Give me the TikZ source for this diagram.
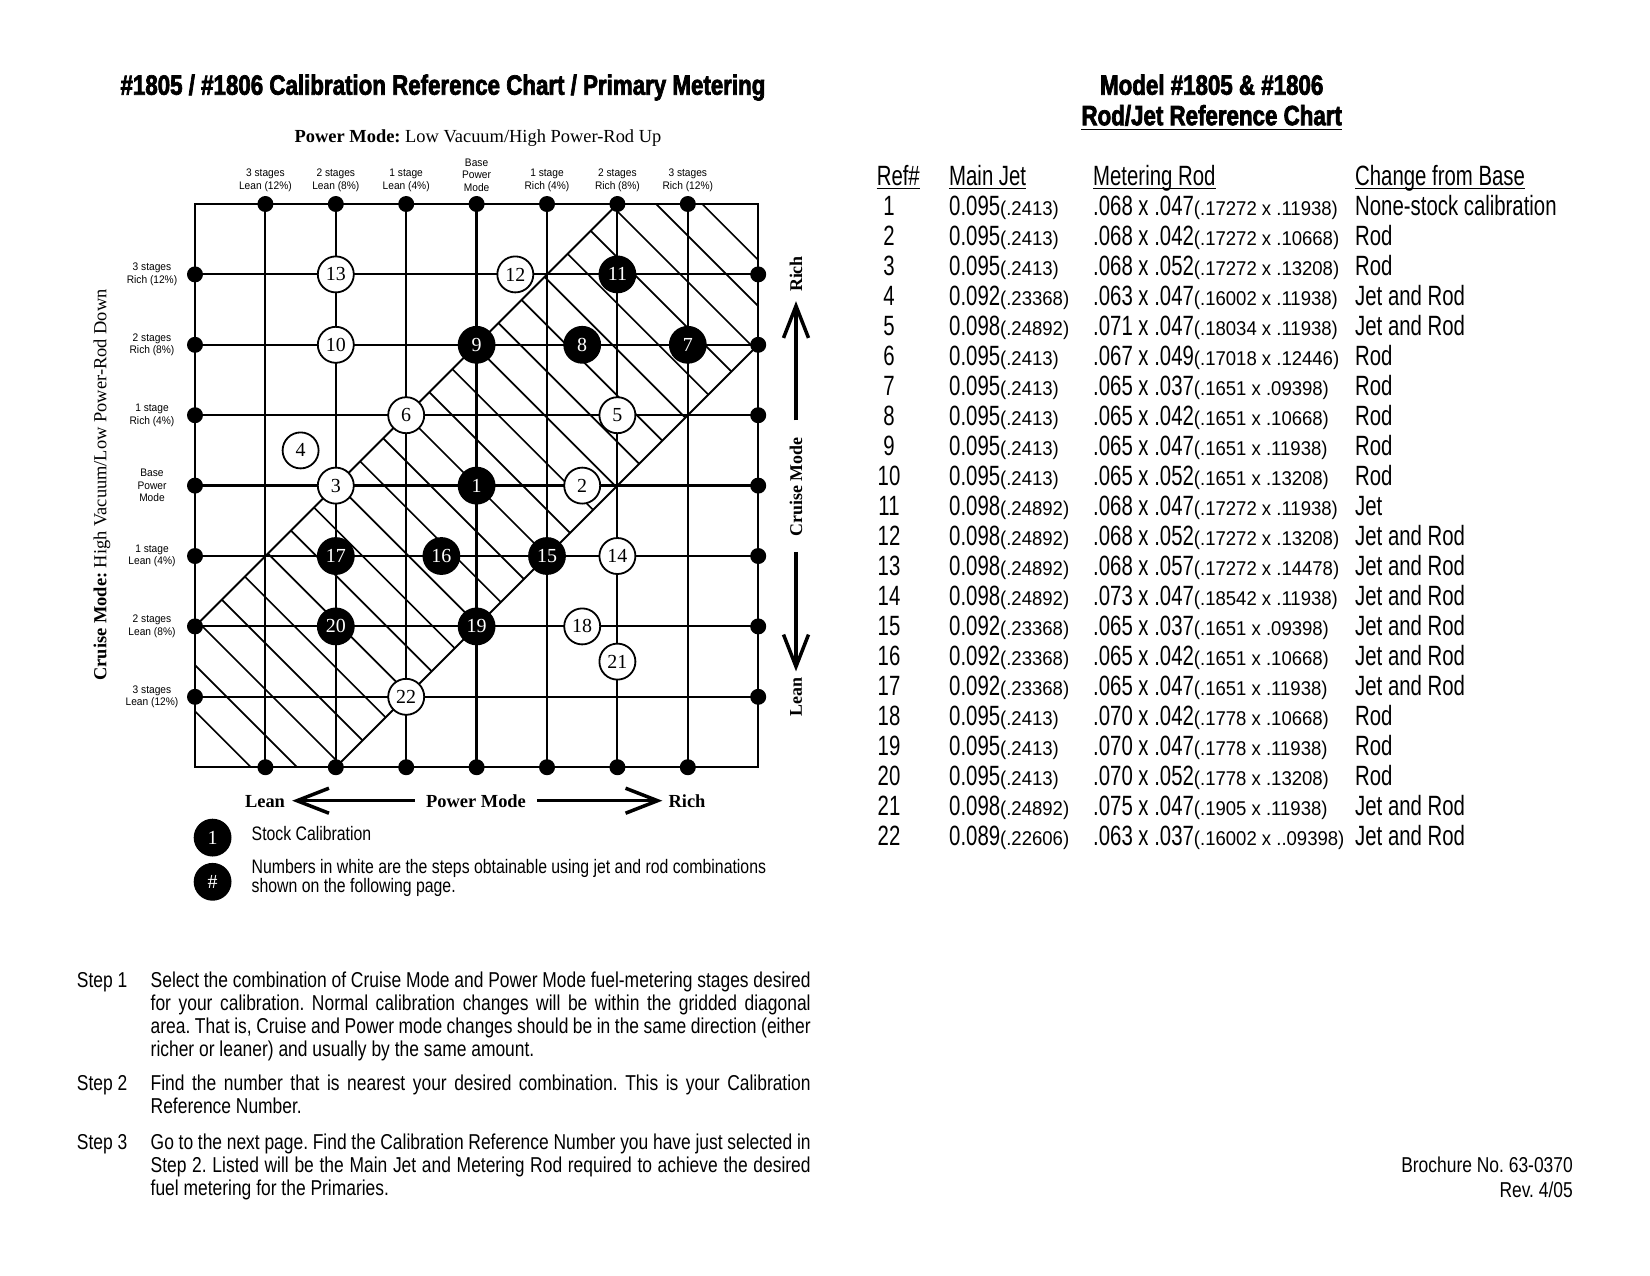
\documentclass[tikz,border=0pt]{standalone}
\usepackage{fontspec}
\usetikzlibrary{arrows.meta,calc}
\newfontfamily\hvc[FakeStretch=0.81]{Liberation Sans}
\newfontfamily\hvt[FakeStretch=0.73]{Liberation Sans}
\newfontfamily\hvs[FakeStretch=0.93]{Liberation Sans}
\newfontfamily\hvb[FakeStretch=0.80,FakeBold=2.5]{Liberation Sans Bold}
\newfontfamily\tms{Liberation Serif}
\newcommand\fsz[1]{\fontsize{#1}{#1}\selectfont}
\newcommand\tsm{\hvs\fsz{20}}
\frenchspacing
\begin{document}
\begin{tikzpicture}[x=1bp,y=-1bp,
  txt/.style={inner sep=0pt},
  tmain/.style={inner sep=0pt,font=\hvt\fsz{28}},
  body/.style={inner sep=0pt,font=\hvc\fsz{21.6},anchor=base west},
  leg/.style={inner sep=0pt,font=\hvc\fsz{19.6},anchor=base west},
  small/.style={inner sep=0pt,font=\hvs\fontsize{11}{12.6}\selectfont,align=center},
  wc/.style={circle,draw,line width=1.8bp,fill=white,minimum size=36bp,inner sep=0pt,font=\tms\fsz{20}},
  bc/.style={wc,fill=black,text=white},
  gridline/.style={line width=2bp},
  baseln/.style={line width=3.3bp},
  border/.style={line width=2.5bp},
  hatchln/.style={line width=1.7bp},
  bandedge/.style={line width=2bp},
  bigarr/.style={line width=3.5bp,-{Straight Barb[length=32bp,width=25bp]}},
  uline/.style={line width=1.5bp}]
\fill[white] (0,0) rectangle (1650,1275);
\useasboundingbox (0,0) rectangle (1650,1275);

% ---------- titles ----------
\node[txt,anchor=base,font=\hvb\fsz{28}] (title) at (443,94.7) {\#1805 / \#1806 Calibration Reference Chart / Primary Metering};
\node[txt,anchor=base,font=\tms\fsz{18.5}] (pmlab) at (478,142) {\textbf{Power Mode:} Low Vacuum/High Power-Rod Up};
\node[txt,rotate=90,font=\tms\fsz{18.5}] (cmlab) at (102,485) {\textbf{Cruise Mode:} High Vacuum/Low Power-Rod Down};

% ---------- grid ----------
\begin{scope}[shift={(195,204)},x=70.4bp,y=-70.4bp]
  \begin{scope}
    \clip (0,6) -- (6,0) -- (8,0) -- (8,2) -- (2,8) -- (0,8) -- cycle;
    \foreach \n in {-11,...,11}{\draw[hatchln] ({\n*0.655-1},-1) -- ({\n*0.655+9},9);}
  \end{scope}
  \foreach \i in {1,2,3,5,6,7}{
    \draw[gridline] (\i,0) -- (\i,8);
    \draw[gridline] (0,\i) -- (8,\i);
  }
  \draw[baseln] (4,0) -- (4,8);
  \draw[baseln] (0,4) -- (8,4);
  \draw[border] (0,0) rectangle (8,8);
  \draw[bandedge] (0,6) -- (6,0);
  \draw[bandedge] (2,8) -- (8,2);
  \foreach \i in {1,...,7}{
    \fill (\i,0) circle (8bp);
    \fill (\i,8) circle (8bp);
    \fill (0,\i) circle (8bp);
    \fill (8,\i) circle (8bp);
  }
  \foreach \cxx/\cyy/\n/\st in {2/1/13/wc, 4.55/1/12/wc, 6/1/11/bc,
      2/2/10/wc, 4/2/9/bc, 5.5/2/8/bc, 7/2/7/bc,
      3/3/6/wc, 6/3/5/wc, 1.5/3.5/4/wc,
      2/4/3/wc, 4/4/1/bc, 5.5/4/2/wc,
      2/5/17/bc, 3.5/5/16/bc, 5/5/15/bc, 6/5/14/wc,
      2/6/20/bc, 4/6/19/bc, 5.5/6/18/wc, 6/6.5/21/wc, 3/7/22/wc}{
    \node[\st] (c\n) at (\cxx,\cyy) {\n};
  }
\end{scope}

% ---------- axis labels ----------
\foreach \i/\t in {1/{3 stages\\Lean (12\%)},2/{2 stages\\Lean (8\%)},3/{1 stage\\Lean (4\%)},
   4/{Base\\Power\\Mode},5/{1 stage\\Rich (4\%)},6/{2 stages\\Rich (8\%)},7/{3 stages\\Rich (12\%)}}{
  \node[small,anchor=south] (col\i) at ({195+70.4*\i},191.5) {\t};
}
\foreach \i/\t in {1/{3 stages\\Rich (12\%)},2/{2 stages\\Rich (8\%)},3/{1 stage\\Rich (4\%)},
   4/{Base\\Power\\Mode},5/{1 stage\\Lean (4\%)},6/{2 stages\\Lean (8\%)},7/{3 stages\\Lean (12\%)}}{
  \node[small] (row\i) at (152,{204+70.4*\i}) {\t};
}

% ---------- right arrows ----------
\node[txt,rotate=90,font=\tms\bfseries\fsz{18}] (rich) at (796,274) {Rich};
\node[txt,rotate=90,font=\tms\bfseries\fsz{18}] (cruise) at (796,487) {Cruise Mode};
\node[txt,rotate=90,font=\tms\bfseries\fsz{18}] (lean) at (796,697) {Lean};
\draw[bigarr,shorten <=17bp,shorten >=9bp] (cruise.east) -- (rich.west -| cruise.east);
\draw[bigarr,shorten <=15bp,shorten >=6bp] (cruise.west) -- (lean.east -| cruise.west);

% ---------- bottom arrows ----------
\node[txt,anchor=base,font=\tms\bfseries\fsz{18.5}] (leanb) at (265,807) {Lean};
\node[txt,anchor=base,font=\tms\bfseries\fsz{18.5}] (pwrm) at (476,807) {Power Mode};
\node[txt,anchor=base,font=\tms\bfseries\fsz{18.5}] (richb) at (687,807) {Rich};
\draw[bigarr,shorten <=11bp,shorten >=7bp] (pwrm.west) -- (leanb.east |- pwrm.west);
\draw[bigarr,shorten <=11bp,shorten >=6bp] (pwrm.east) -- (richb.west |- pwrm.east);

% ---------- legend ----------
\node[bc] (leg1) at (212.6,837.6) {1};
\node[bc] (leg2) at (212.6,881.8) {\#};
\node[leg] (legt1) at (251.5,840.8) {Stock Calibration};
\node[leg] (legt2) at (251.5,873.5) {Numbers in white are the steps obtainable using jet and rod combinations};
\node[leg] (legt3) at (251.5,892.4) {shown on the following page.};

% ---------- steps ----------
\node[body] (st1) at (76.8,987.4) {Step 1};
\node[body] (s1a) at (150.5,987.4) {\makebox[660bp][s]{Select the combination of Cruise Mode and Power Mode fuel-metering stages desired}};
\node[body] (s1b) at (150.5,1010.5) {\makebox[660bp][s]{for your calibration. Normal calibration changes will be within the gridded diagonal}};
\node[body] (s1c) at (150.5,1033.7) {\makebox[660bp][s]{area. That is, Cruise and Power mode changes should be in the same direction (either}};
\node[body] (s1d) at (150.5,1056.8) {richer or leaner) and usually by the same amount.};
\node[body] (st2) at (76.8,1090.5) {Step 2};
\node[body] (s2a) at (150.5,1090.5) {\makebox[660bp][s]{Find the number that is nearest your desired combination. This is your Calibration}};
\node[body] (s2b) at (150.5,1113.7) {Reference Number.};
\node[body] (st3) at (76.8,1149.4) {Step 3};
\node[body] (s3a) at (150.5,1149.4) {\makebox[660bp][s]{Go to the next page. Find the Calibration Reference Number you have just selected in}};
\node[body] (s3b) at (150.5,1172.6) {\makebox[660bp][s]{Step 2. Listed will be the Main Jet and Metering Rod required to achieve the desired}};
\node[body] (s3c) at (150.5,1195.7) {fuel metering for the Primaries.};

% ---------- right table ----------
\node[txt,anchor=base,font=\hvb\fsz{28}] (model) at (1211.7,94.7) {Model \#1805 \& \#1806};
\node[txt,anchor=base,font=\hvb\fsz{28}] (rjt) at (1211.7,125.2) {Rod/Jet Reference Chart};
\draw[uline,line width=1.8bp] ($(rjt.base west)+(0,4.3)$) -- ($(rjt.base east)+(0,4.3)$);

\node[tmain,anchor=base west] (hRef) at (876.6,185.2) {Ref\#};
\node[tmain,anchor=base west] (hJet) at (949,185.2) {Main Jet};
\node[tmain,anchor=base west] (hRod) at (1093,185.2) {Metering Rod};
\node[tmain,anchor=base west] (hChg) at (1355,185.2) {Change from Base};
\foreach \h in {hRef,hJet,hRod,hChg}{
  \draw[uline] ($(\h.base west)+(0,3.5)$) -- ($(\h.base east)+(0,3.5)$);
}

\foreach \vJ/\vJs/\vM/\vMs/\vC [count=\i] in {
 0.095/.2413/.068 x .047/.17272 x .11938/None-stock calibration,
 0.095/.2413/.068 x .042/.17272 x .10668/Rod,
 0.095/.2413/.068 x .052/.17272 x .13208/Rod,
 0.092/.23368/.063 x .047/.16002 x .11938/Jet and Rod,
 0.098/.24892/.071 x .047/.18034 x .11938/Jet and Rod,
 0.095/.2413/.067 x .049/.17018 x .12446/Rod,
 0.095/.2413/.065 x .037/.1651 x .09398/Rod,
 0.095/.2413/.065 x .042/.1651 x .10668/Rod,
 0.095/.2413/.065 x .047/.1651 x .11938/Rod,
 0.095/.2413/.065 x .052/.1651 x .13208/Rod,
 0.098/.24892/.068 x .047/.17272 x .11938/Jet,
 0.098/.24892/.068 x .052/.17272 x .13208/Jet and Rod,
 0.098/.24892/.068 x .057/.17272 x .14478/Jet and Rod,
 0.098/.24892/.073 x .047/.18542 x .11938/Jet and Rod,
 0.092/.23368/.065 x .037/.1651 x .09398/Jet and Rod,
 0.092/.23368/.065 x .042/.1651 x .10668/Jet and Rod,
 0.092/.23368/.065 x .047/.1651 x .11938/Jet and Rod,
 0.095/.2413/.070 x .042/.1778 x .10668/Rod,
 0.095/.2413/.070 x .047/.1778 x .11938/Rod,
 0.095/.2413/.070 x .052/.1778 x .13208/Rod,
 0.098/.24892/.075 x .047/.1905 x .11938/Jet and Rod,
 0.089/.22606/.063 x .037/.16002 x ..09398/Jet and Rod}{
  \pgfmathsetmacro\yy{215.7+30*(\i-1)}
  \node[tmain,anchor=base] (ref\i) at (889,\yy) {\i};
  \node[tmain,anchor=base west] (jet\i) at (949,\yy) {\vJ{\tsm(\vJs)}};
  \node[tmain,anchor=base west] (rod\i) at (1093,\yy) {\vM{\tsm(\vMs)}};
  \node[tmain,anchor=base west] (chg\i) at (1355,\yy) {\vC};
}

% ---------- footer ----------
\node[body,anchor=base east] (bro) at (1573,1172) {Brochure No. 63-0370};
\node[body,anchor=base east] (rev) at (1573,1197.6) {Rev. 4/05};
\end{tikzpicture}
\end{document}
